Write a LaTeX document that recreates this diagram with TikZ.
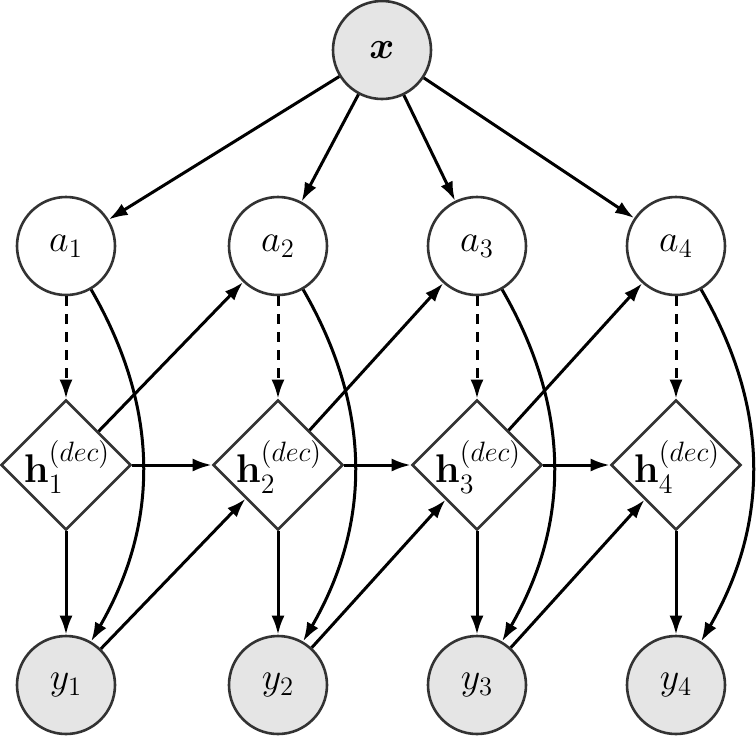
\RequirePackage{fix-cm}
\documentclass[tikz,border=0pt]{standalone}
\usepackage{amsmath,bm}
\usetikzlibrary{shapes.geometric,arrows.meta}
\begin{document}
\begin{tikzpicture}[x=0.5pt,y=-0.5pt,
 var/.style={circle,draw=black!80,line width=1.3pt,minimum size=49pt,inner sep=0pt,font=\fontsize{19}{22}\selectfont},
 obs/.style={var,fill=black!10},
 hid/.style={diamond,draw=black!80,line width=1.3pt,minimum width=65pt,minimum height=65pt,inner sep=0pt},
 lab/.style={font=\fontsize{20}{24}\selectfont,inner sep=0pt},
 arr/.style={-{Latex[length=9.5pt,width=6.5pt]},line width=1.5pt},
 darr/.style={arr,dash pattern=on 5pt off 4pt}]
\useasboundingbox (0,0) rectangle (756,735);
\node[obs] (x) at (382,50) {$\bm{x}$};
\foreach \i/\px in {1/66,2/278,3/477,4/676}{
  \node[var] (a\i) at (\px,246) {$a_{\i}$};
  \node[hid] (h\i) at (\px,465) {};
  \node[lab] (ht\i) at (\px+1,467) {$\mathbf{h}_{\i}^{(dec)}$};
  \node[obs] (y\i) at (\px,685) {$y_{\i}$};
}
\foreach \i in {1,2,3,4}{
  \draw[arr] (x) -- (a\i);
  \draw[darr] (a\i) -- (h\i);
  \draw[arr] (h\i) -- (y\i);
  \draw[arr] (a\i) to[bend left=30] (y\i);
}
\foreach \i/\j in {1/2,2/3,3/4}{
  \draw[arr] (h\i) -- (h\j);
  \draw[arr] (h\i) -- (a\j);
  \draw[arr] (y\i) -- (h\j);
}
\end{tikzpicture}
\end{document}
